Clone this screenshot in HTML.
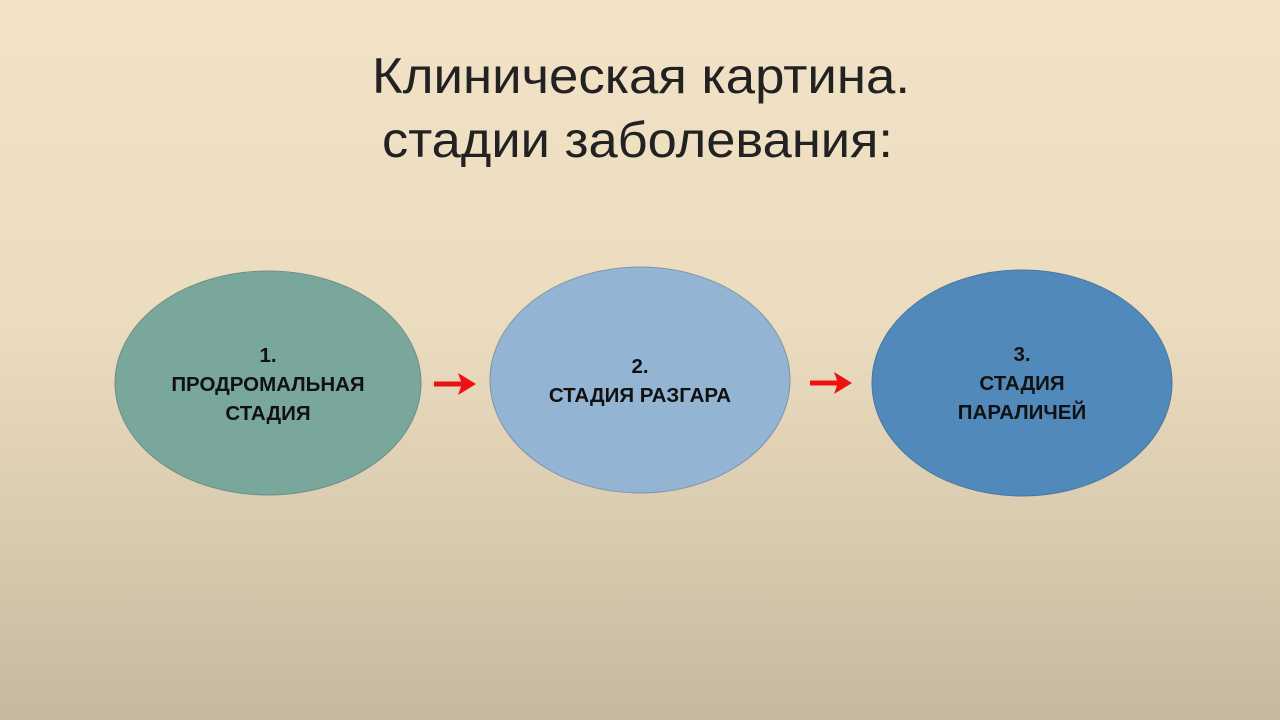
<!DOCTYPE html>
<html><head><meta charset="utf-8"><style>
html,body{margin:0;padding:0;}
body{width:1280px;height:720px;overflow:hidden;background:linear-gradient(to bottom,#f2e2c6 0%,#ecdcbf 45%,#d8caae 75%,#c6b89f 100%);font-family:"Liberation Sans",sans-serif;}
</style></head><body>
<svg width="1280" height="720" xmlns="http://www.w3.org/2000/svg" style="display:block">
<text x="372" y="93" textLength="538" lengthAdjust="spacingAndGlyphs" font-family="Liberation Sans, DejaVu Sans, sans-serif" font-size="50" fill="#222">Клиническая картина.</text>
<text x="382" y="157" textLength="511" lengthAdjust="spacingAndGlyphs" font-family="Liberation Sans, DejaVu Sans, sans-serif" font-size="50" fill="#222">стадии заболевания:</text>
<ellipse cx="268" cy="383" rx="153" ry="112" fill="#7aa79b" stroke="#6f8f87" stroke-width="1"/>
<ellipse cx="640" cy="380" rx="150" ry="113" fill="#94b4d3" stroke="#7f95a8" stroke-width="1"/>
<ellipse cx="1022" cy="383" rx="150" ry="113" fill="#5289bb" stroke="#4b76a0" stroke-width="1"/>
<g font-family="Liberation Sans, sans-serif" font-weight="bold" font-size="20.5" fill="#111" text-anchor="middle">
<text x="268" y="362">1.</text>
<text x="268" y="391">ПРОДРОМАЛЬНАЯ</text>
<text x="268" y="420">СТАДИЯ</text>
<text x="640" y="373">2.</text>
<text x="640" y="402">СТАДИЯ РАЗГАРА</text>
<text x="1022" y="361">3.</text>
<text x="1022" y="390">СТАДИЯ</text>
<text x="1022" y="419">ПАРАЛИЧЕЙ</text>
</g>
<g fill="#ee1111">
<rect x="434" y="381.5" width="30" height="5"/>
<polygon points="458,373 476,384 458,395 462,384"/>
<rect x="810" y="380.5" width="30" height="5"/>
<polygon points="834,372 852,383 834,394 838,383"/>
</g>
</svg>
</body></html>
